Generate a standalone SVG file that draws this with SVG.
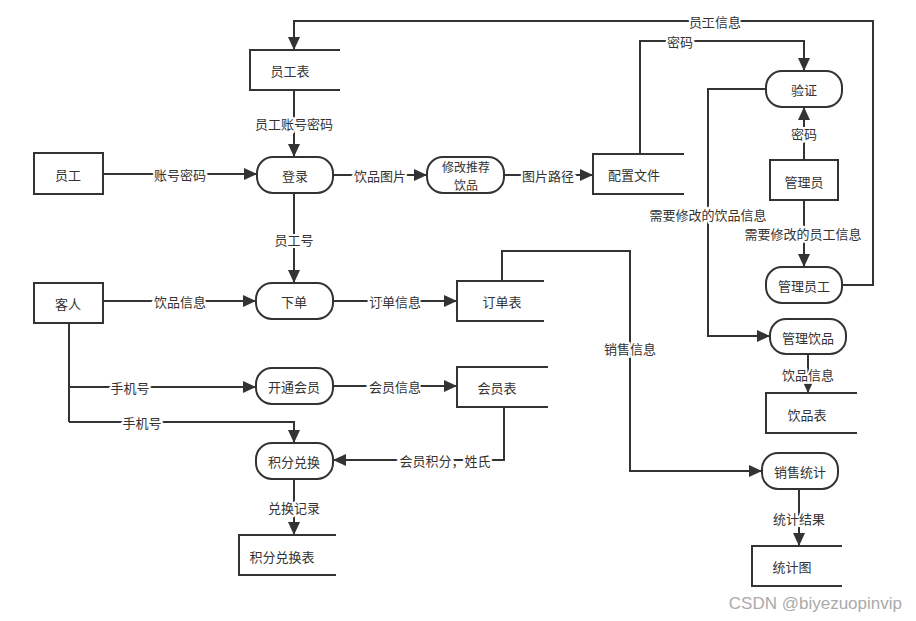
<svg xmlns="http://www.w3.org/2000/svg" width="916" height="621" viewBox="0 0 916 621">
<defs>
<marker id="arr" markerUnits="userSpaceOnUse" markerWidth="14" markerHeight="12" refX="13" refY="6" orient="auto">
<path d="M0,0 L13,6 L0,12 z" fill="#333"/>
</marker>
<style>
.n{fill:#fff;stroke:#333;stroke-width:2}
.ds{fill:none;stroke:#333;stroke-width:2}
.t{font-family:"Noto Sans CJK SC","Noto Sans",sans-serif;font-size:13px;fill:#333;text-anchor:middle;dominant-baseline:central}
.s{font-size:12px}
.c{fill:none;stroke:#333;stroke-width:2}
.a{marker-end:url(#arr)}
.l{font-family:"Noto Sans CJK SC","Noto Sans",sans-serif;font-size:13px;fill:#333;text-anchor:middle;dominant-baseline:central;stroke:#fff;stroke-width:4;paint-order:stroke}
.w{font-family:"Liberation Sans","Noto Sans",sans-serif;font-size:17px;fill:#aaa;text-anchor:end}
</style>
</defs>
<rect width="916" height="621" fill="#fff"/>
<g id="connectors">
<path class="c a" d="M842,285 H873 V21 H294 V50"/>
<path class="c a" d="M294,90 V157"/>
<path class="c a" d="M103,174 H257"/>
<path class="c a" d="M333,175 H427"/>
<path class="c a" d="M504,175 H593"/>
<path class="c a" d="M640,154 V41 H804 V71"/>
<path class="c a" d="M804,160 V107"/>
<path class="c a" d="M804,200 V267"/>
<path class="c a" d="M766,89 H708 V336 H770"/>
<path class="c a" d="M294,193 V283"/>
<path class="c a" d="M103,301 H256"/>
<path class="c a" d="M333,301 H457"/>
<path class="c a" d="M502,281 V251 H630 V471 H762"/>
<path class="c" d="M69,323 V422"/>
<path class="c a" d="M69,387 H256"/>
<path class="c a" d="M69,422 H294 V443"/>
<path class="c a" d="M333,386 H457"/>
<path class="c a" d="M504,407 V460 H333"/>
<path class="c a" d="M294,479 V535"/>
<path class="c a" d="M808,354 V393"/>
<path class="c a" d="M799,489 V546"/>
<text class="l" x="715" y="21">员工信息</text>
<text class="l" x="294" y="123">员工账号密码</text>
<text class="l" x="180" y="174">账号密码</text>
<text class="l" x="380" y="175">饮品图片</text>
<text class="l" x="548" y="175">图片路径</text>
<text class="l" x="680" y="41">密码</text>
<text class="l" x="804" y="133">密码</text>
<text class="l" x="803" y="233">需要修改的员工信息</text>
<text class="l" x="708" y="214">需要修改的饮品信息</text>
<text class="l" x="294" y="239">员工号</text>
<text class="l" x="180" y="301">饮品信息</text>
<text class="l" x="395" y="301">订单信息</text>
<text class="l" x="630" y="348">销售信息</text>
<text class="l" x="130" y="387">手机号</text>
<text class="l" x="142" y="422">手机号</text>
<text class="l" x="395" y="386">会员信息</text>
<text class="l" x="445" y="460">会员积分，姓氏</text>
<text class="l" x="294" y="507">兑换记录</text>
<text class="l" x="808" y="374">饮品信息</text>
<text class="l" x="799" y="518">统计结果</text>
</g>
<g id="yuangongbiao"><path class="ds" d="M340,50 H250 V90 H340"/><text class="t" x="290" y="70">员工表</text></g>
<g id="yuangong"><rect class="n" x="34" y="153" width="69" height="41"/><text class="t" x="68" y="174">员工</text></g>
<g id="denglu"><rect class="n" x="257" y="157" width="76" height="36" rx="16"/><text class="t" x="295" y="175">登录</text></g>
<g id="xiugai"><rect class="n" x="427" y="157" width="77" height="36" rx="16"/><text class="t s" x="466" y="166">修改推荐</text><text class="t s" x="466" y="184">饮品</text></g>
<g id="peizhi"><path class="ds" d="M684,154 H593 V194 H684"/><text class="t" x="634" y="174">配置文件</text></g>
<g id="yanzheng"><rect class="n" x="766" y="71" width="76" height="36" rx="16"/><text class="t" x="804" y="89">验证</text></g>
<g id="guanliyuan"><rect class="n" x="770" y="160" width="68" height="40"/><text class="t" x="804" y="181">管理员</text></g>
<g id="guanliyuangong"><rect class="n" x="766" y="267" width="76" height="36" rx="16"/><text class="t" x="804" y="285">管理员工</text></g>
<g id="xiadan"><rect class="n" x="256" y="283" width="77" height="36" rx="16"/><text class="t" x="294" y="301">下单</text></g>
<g id="keren"><rect class="n" x="34" y="283" width="69" height="40"/><text class="t" x="68" y="303">客人</text></g>
<g id="dingdanbiao"><path class="ds" d="M544,281 H457 V321 H544"/><text class="t" x="502" y="301">订单表</text></g>
<g id="kaitong"><rect class="n" x="256" y="368" width="77" height="36" rx="16"/><text class="t" x="294" y="386">开通会员</text></g>
<g id="huiyuanbiao"><path class="ds" d="M548,367 H457 V407 H548"/><text class="t" x="497" y="387">会员表</text></g>
<g id="jifen"><rect class="n" x="256" y="443" width="77" height="36" rx="16"/><text class="t" x="294" y="461">积分兑换</text></g>
<g id="jifenbiao"><path class="ds" d="M336,535 H239 V575 H336"/><text class="t" x="282" y="556">积分兑换表</text></g>
<g id="guanliyinpin"><rect class="n" x="770" y="319" width="76" height="35" rx="16"/><text class="t" x="808" y="337">管理饮品</text></g>
<g id="yinpinbiao"><path class="ds" d="M857,393 H766 V433 H857"/><text class="t" x="807" y="414">饮品表</text></g>
<g id="xiaoshou"><rect class="n" x="762" y="453" width="76" height="36" rx="16"/><text class="t" x="800" y="471">销售统计</text></g>
<g id="tongjitu"><path class="ds" d="M842,546 H752 V586 H842"/><text class="t" x="792" y="566">统计图</text></g>
<text class="w" x="902" y="609">CSDN @biyezuopinvip</text>
</svg>
